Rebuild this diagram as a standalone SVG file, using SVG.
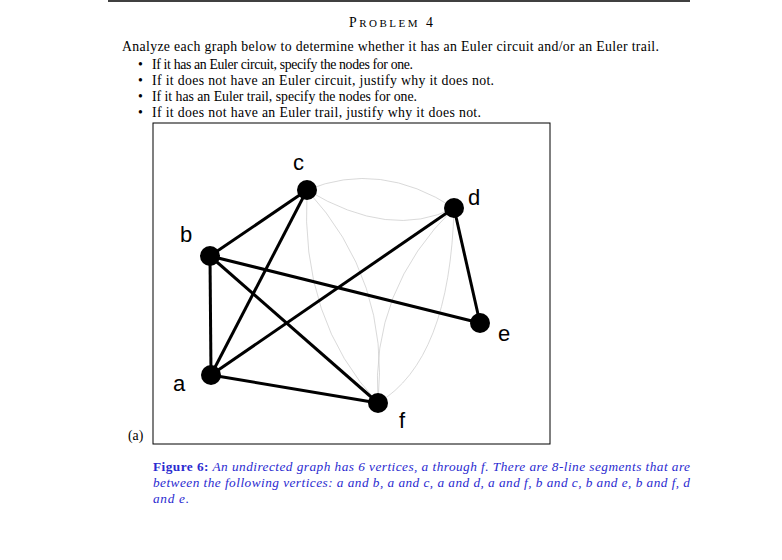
<svg xmlns="http://www.w3.org/2000/svg" width="782" height="560" viewBox="0 0 782 560">
<style>
.t{font-family:"Liberation Serif","DejaVu Serif",serif;font-size:13.8px;fill:#000}
.cap{font-family:"Liberation Serif","DejaVu Serif",serif;font-size:13.3px;fill:#2a2ad0;font-style:italic}
.lbl{font-family:"Liberation Sans",Arial,sans-serif;font-size:22px;fill:#000}
.e{stroke:#000;stroke-width:3;fill:none}
.f{stroke:#c8c8c8;stroke-width:0.7;fill:none}
</style>
<rect width="782" height="560" fill="#fff"/>
<line x1="108" y1="1" x2="690" y2="1" stroke="#000" stroke-width="1.5"/>
<text class="t" x="391" y="27" text-anchor="middle" textLength="84" lengthAdjust="spacing">P<tspan font-size="11">ROBLEM</tspan> 4</text>
<text class="t" x="122" y="51" textLength="537" lengthAdjust="spacing">Analyze each graph below to determine whether it has an Euler circuit and/or an Euler trail.</text>
<text class="t" x="138" y="69">•</text><text class="t" x="152" y="69" textLength="261" lengthAdjust="spacing">If it has an Euler circuit, specify the nodes for one.</text>
<text class="t" x="138" y="85">•</text><text class="t" x="152" y="85" textLength="342" lengthAdjust="spacing">If it does not have an Euler circuit, justify why it does not.</text>
<text class="t" x="138" y="101">•</text><text class="t" x="152" y="101" textLength="265" lengthAdjust="spacing">If it has an Euler trail, specify the nodes for one.</text>
<text class="t" x="138" y="117">•</text><text class="t" x="152" y="117" textLength="329" lengthAdjust="spacing">If it does not have an Euler trail, justify why it does not.</text>
<rect x="153" y="123" width="397" height="321" fill="none" stroke="#000" stroke-width="1"/>
<text class="t" x="128" y="440">(a)</text>
<g id="connectors">
<path class="f" d="M307 190 Q380 160 454 208"/>
<path class="f" d="M307 190 Q390 240 454 208"/>
<path class="f" d="M307 190 Q300 320 378 403"/>
<path class="f" d="M307 190 Q390 280 378 403"/>
<path class="f" d="M454 208 Q370 290 378 403"/>
<path class="f" d="M454 208 Q450 360 378 403"/>
<line class="e" x1="211" y1="375" x2="210" y2="256"/>
<line class="e" x1="211" y1="375" x2="307" y2="190"/>
<line class="e" x1="211" y1="375" x2="454" y2="208"/>
<line class="e" x1="211" y1="375" x2="378" y2="403"/>
<line class="e" x1="210" y1="256" x2="307" y2="190"/>
<line class="e" x1="210" y1="256" x2="480" y2="323"/>
<line class="e" x1="210" y1="256" x2="378" y2="403"/>
<line class="e" x1="454" y1="208" x2="480" y2="323"/>
</g>
<g id="a"><circle cx="211" cy="375" r="10"/><text class="lbl" x="173" y="391">a</text></g>
<g id="b"><circle cx="210" cy="256" r="10"/><text class="lbl" x="180" y="242">b</text></g>
<g id="c"><circle cx="307" cy="190" r="10"/><text class="lbl" x="293" y="170">c</text></g>
<g id="d"><circle cx="454" cy="208" r="10"/><text class="lbl" x="468" y="205">d</text></g>
<g id="e"><circle cx="480" cy="323" r="10"/><text class="lbl" x="498" y="341">e</text></g>
<g id="f"><circle cx="378" cy="403" r="10"/><text class="lbl" x="399" y="428">f</text></g>
<text class="cap" x="153" y="471" textLength="537" lengthAdjust="spacing"><tspan font-weight="bold" font-style="normal">Figure 6:</tspan> An undirected graph has 6 vertices, a through f. There are 8-line segments that are</text>
<text class="cap" x="153" y="487" textLength="537" lengthAdjust="spacing">between the following vertices: a and b, a and c, a and d, a and f, b and c, b and e, b and f, d</text>
<text class="cap" x="153" y="503" textLength="36" lengthAdjust="spacing">and e.</text>
</svg>
